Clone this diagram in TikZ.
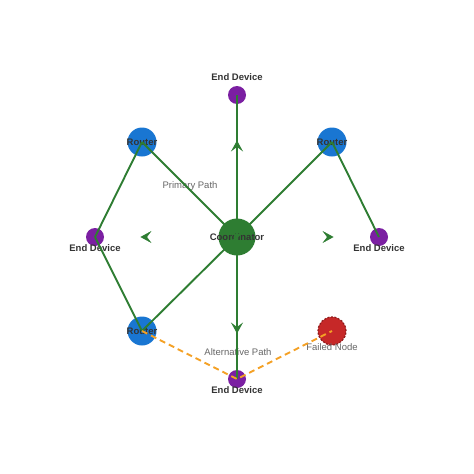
\documentclass[tikz,border=0pt]{standalone}
\usepackage{fontspec}
\setmainfont{Liberation Sans}
\usetikzlibrary{arrows.meta, decorations.markings}
\definecolor{coordgreen}{HTML}{2E7D32}
\definecolor{routerblue}{HTML}{1976D2}
\definecolor{devpurple}{HTML}{7B1FA2}
\definecolor{failred}{HTML}{C62828}
\definecolor{failborder}{HTML}{8E1B1B}
\definecolor{altorange}{HTML}{F4A126}
\definecolor{labeldark}{HTML}{333333}
\definecolor{pathgray}{HTML}{666666}
\tikzset{node labels/.style={font=\bfseries\fontsize{9.5}{11}\selectfont,text=labeldark,inner sep=0pt}}
\tikzset{path labels/.style={font=\fontsize{9.5}{11}\selectfont,text=pathgray,inner sep=0pt}}
\tikzset{coordinator/.style={circle,fill=coordgreen,minimum size=37pt,inner sep=0pt,label={[node labels]center:Coordinator}}}
\tikzset{router/.style={circle,fill=routerblue,minimum size=29pt,inner sep=0pt,label={[node labels]center:Router}}}
\tikzset{enddevice/.style={circle,fill=devpurple,minimum size=18pt,inner sep=0pt}}
\tikzset{failed/.style={circle,fill=failred,draw=failborder,line width=1.2pt,dash pattern=on 2pt off 1.5pt,minimum size=28pt,inner sep=0pt}}
\tikzset{link/.style={draw=coordgreen,line width=1.9pt}}
\tikzset{backup/.style={draw=altorange,line width=1.9pt,dash pattern=on 6pt off 4pt}}
\tikzset{mid arrow/.style={postaction={decorate},decoration={markings,
    mark=at position 0.68 with {\arrow[coordgreen]{Stealth[length=11pt,width=12pt,inset=4.5pt]}}}}}

\begin{document}
\begin{tikzpicture}[x=1pt, y=-1pt]
                    \useasboundingbox (0,0) rectangle (474,474);
                    %\draw[help lines, step=50] (0,0) grid (474,474);

                    \node[coordinator] at (237, 237) (C){};
                    \node[router] at (142, 142) (R1){};
                    \node[router] at (332, 142) (R2){};
                    \node[router] at (142, 331) (R3){};
                    \node[failed] at (332, 331) (F){};

                    \node[enddevice, label={[node labels, label distance=5.5pt]above:End Device}] at (237, 95) (D1){};
                    \node[enddevice, label={[node labels, label distance=-1.5pt]below:End Device}] at (95, 237) (D2){};
                    \node[enddevice, label={[node labels, label distance=-1.5pt]below:End Device}] at (379, 237) (D3){};
                    \node[enddevice, label={[node labels, label distance=-1.5pt]below:End Device}] at (237, 379) (D4){};

                    \node[path labels] at (190, 186) (primary){Primary Path};
                    \node[path labels] at (238, 352) (alternative){Alternative Path};
                    \node[path labels] at (332, 347) (failtext){Failed Node};

                    \path[link, mid arrow] (C.center) -- (D1.center);
                    \path[link, mid arrow] (C.center) -- (D4.center);
                    \path[mid arrow] (C.center) -- (D2.center);
                    \path[mid arrow] (C.center) -- (D3.center);

                    \path[link] (C.center) -- (R1.center);
                    \path[link] (C.center) -- (R2.center);
                    \path[link] (C.center) -- (R3.center);
                    \path[link] (R1.center) -- (D2.center);
                    \path[link] (R3.center) -- (D2.center);
                    \path[link] (R2.center) -- (D3.center);

                    \path[backup] (R3.center) -- (D4.center) -- (F.center);

                \end{tikzpicture}
\end{document}
